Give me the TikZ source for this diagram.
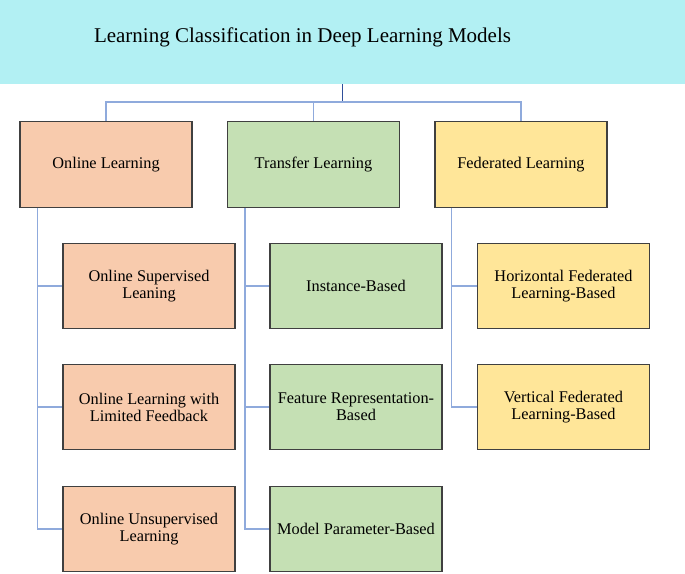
\documentclass[tikz,border=0pt]{standalone}
\usepackage{fontspec}
\setmainfont{Liberation Serif}
\usetikzlibrary{calc}
\definecolor{bandcyan}{HTML}{B2F0F3}
\definecolor{orangefill}{HTML}{F8CBAD}
\definecolor{greenfill}{HTML}{C5E0B4}
\definecolor{yellowfill}{HTML}{FFE699}
\definecolor{bordergray}{HTML}{404040}
\definecolor{linkblue}{HTML}{8FAADC}
\definecolor{darkblue}{HTML}{2F4F9A}
\begin{document}
\begin{tikzpicture}[x=1pt,y=-1pt,
  box/.style={draw=bordergray, line width=1.1pt, minimum width=172pt, minimum height=85.5pt,
    inner sep=0pt, align=center, font=\fontsize{16.3}{17}\selectfont},
  obox/.style={box, fill=orangefill},
  gbox/.style={box, fill=greenfill},
  ybox/.style={box, fill=yellowfill},
  conn/.style={draw=linkblue, line width=1.2pt},
  topconn/.style={draw=darkblue, line width=1.2pt}]
\useasboundingbox (0,0) rectangle (685,573);
% title band
\node[fill=bandcyan, minimum width=685pt, minimum height=84pt, inner sep=0pt] (title) at (342.5,42) {};
\node[font=\fontsize{21}{25}\selectfont, inner sep=0pt] (titletext) at (302.5,37) {Learning Classification in Deep Learning Models};
% top level
\node[obox] (ol) at (106,164.5) {Online Learning};
\node[gbox] (tl) at (313.5,164.5) {Transfer Learning};
\node[ybox] (fl) at (521,164.5) {Federated Learning};
% online children
\node[obox] (os1) at (149,286) {Online Supervised\\Leaning};
\node[obox] (os2) at (149,407) {Online Learning with\\Limited Feedback};
\node[obox] (os3) at (149,529) {Online Unsupervised\\Learning};
% transfer children
\node[gbox] (tb1) at (356,286) {Instance-Based};
\node[gbox] (tb2) at (356,407) {Feature Representation-\\Based};
\node[gbox] (tb3) at (356,529) {Model Parameter-Based};
% federated children
\node[ybox] (fb1) at (563.5,286) {Horizontal Federated\\Learning-Based};
\node[ybox] (fb2) at (563.5,407) {Vertical Federated\\Learning-Based};
% connectors from title
\coordinate (hub) at (342.5,102);
\draw[topconn] (title.south) -- (hub);
\draw[conn] (hub) -| (ol.north);
\draw[conn] (hub) -| (tl.north);
\draw[conn] (hub) -| (fl.north);
% child connectors
\coordinate (olx) at ($(ol.south west)+(18,0)$);
\coordinate (tlx) at ($(tl.south west)+(18,0)$);
\coordinate (flx) at ($(fl.south west)+(17,0)$);
\draw[conn] (olx) |- (os1.west);
\draw[conn] (olx) |- (os2.west);
\draw[conn] (olx) |- (os3.west);
\draw[conn] (tlx) |- (tb1.west);
\draw[conn] (tlx) |- (tb2.west);
\draw[conn] (tlx) |- (tb3.west);
\draw[conn] (flx) |- (fb1.west);
\draw[conn] (flx) |- (fb2.west);
\end{tikzpicture}
\end{document}
